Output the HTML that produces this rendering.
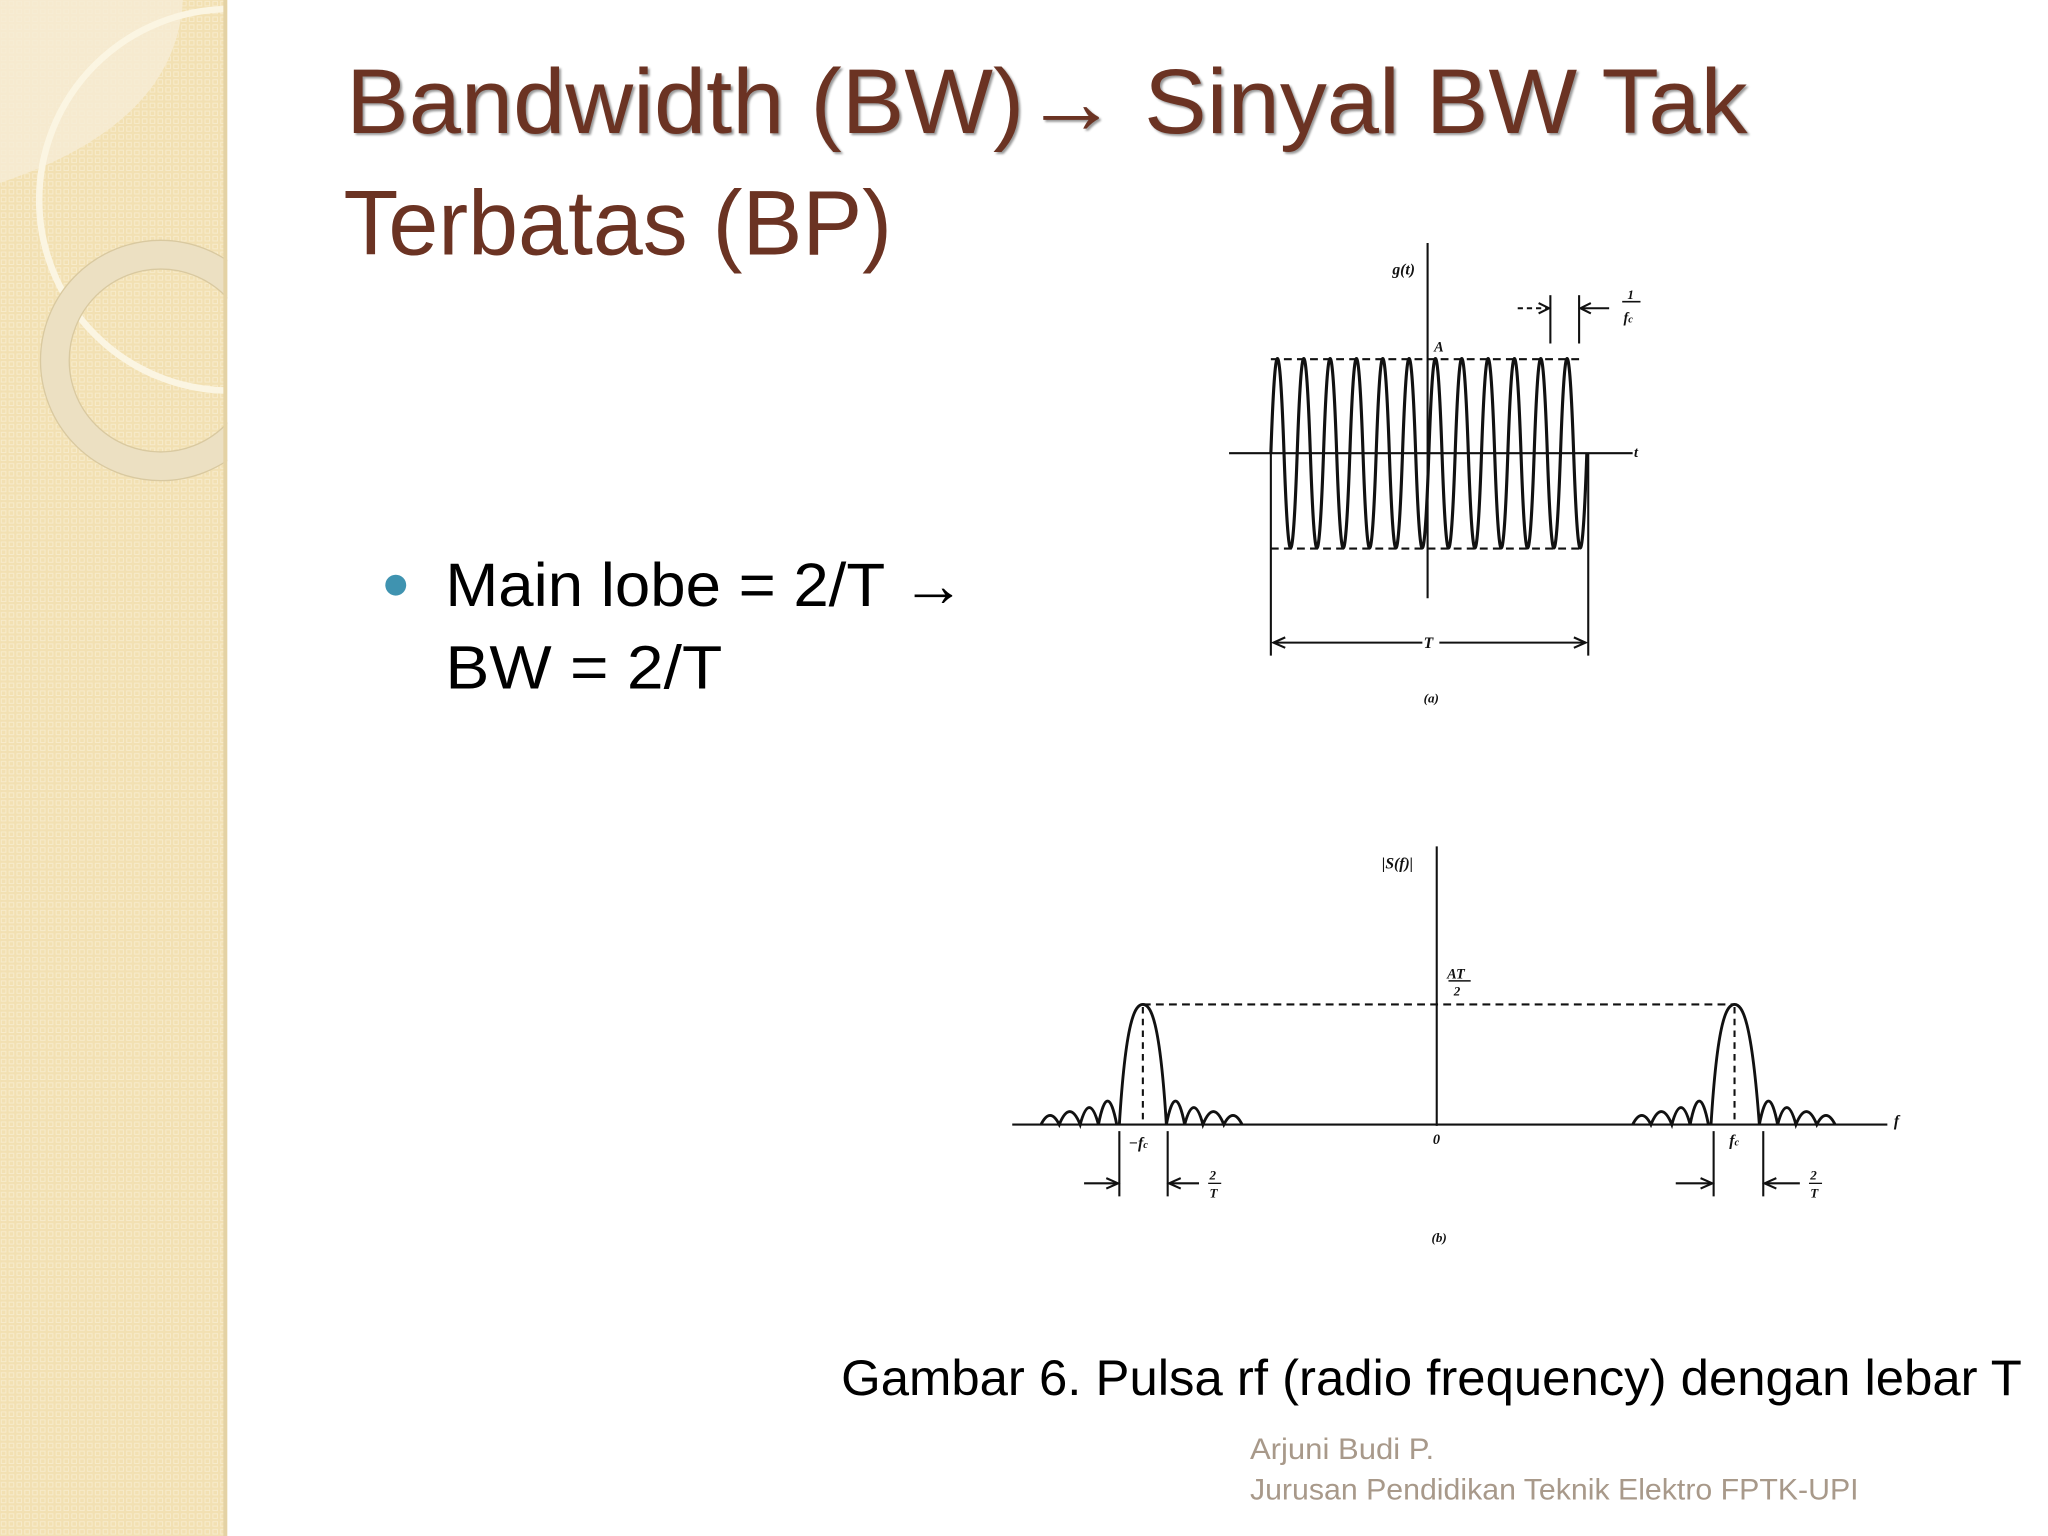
<!DOCTYPE html>
<html><head><meta charset="utf-8"><style>
html,body{margin:0;padding:0;background:#fff;}
svg{display:block;}
</style></head><body>
<svg width="2048" height="1536" viewBox="0 0 1568 1176" xmlns="http://www.w3.org/2000/svg">
<defs>
<pattern id="pt" width="6" height="6" patternUnits="userSpaceOnUse">
<rect width="6" height="6" fill="#f2e0b2"/>
<rect x="1" y="1" width="3.5" height="3.5" fill="none" stroke="#f7ebcb" stroke-width="0.8"/>
</pattern>
<clipPath id="sb"><rect x="0" y="0" width="174" height="1176"/></clipPath>
</defs>
<rect x="0" y="0" width="1568" height="1176" fill="#fff"/>
<g clip-path="url(#sb)">
<rect x="0" y="0" width="174" height="1176" fill="url(#pt)"/>
<path d="M0,0 H140 Q135,95 0,140 Z" fill="#f6ecd6" opacity="0.8"/>
<circle cx="176" cy="153" r="146" fill="none" stroke="#fbf5e2" stroke-width="5"/>
<circle cx="123" cy="276" r="81" fill="none" stroke="#ece0c2" stroke-width="22"/>
<circle cx="123" cy="276" r="92" fill="none" stroke="#d9c9a0" stroke-width="1"/>
<circle cx="123" cy="276" r="70" fill="none" stroke="#d9c9a0" stroke-width="1"/>
</g>
<rect x="171" y="0" width="3" height="1176" fill="#e4d2a4"/>

<g font-family="Liberation Sans, sans-serif">
<text x="265" y="102" font-size="70" fill="#6b3323" textLength="1073" lengthAdjust="spacingAndGlyphs" style="text-shadow:2px 2px 2px #999">Bandwidth (BW)→ Sinyal BW Tak</text>
<text x="263" y="195" font-size="70" fill="#6b3323" textLength="420" lengthAdjust="spacingAndGlyphs">Terbatas (BP)</text>
<circle cx="303" cy="448" r="8" fill="#3f93b0"/>
<text x="341" y="464" font-size="47" fill="#000" textLength="398" lengthAdjust="spacingAndGlyphs">Main lobe = 2/T →</text>
<text x="341" y="527" font-size="47" fill="#000" textLength="212" lengthAdjust="spacingAndGlyphs">BW = 2/T</text>
<text x="644" y="1068" font-size="38" fill="#000" textLength="904" lengthAdjust="spacingAndGlyphs">Gambar 6. Pulsa rf (radio frequency) dengan lebar T</text>
<text x="957" y="1117" font-size="23" fill="#a8998a" textLength="141" lengthAdjust="spacingAndGlyphs">Arjuni Budi P.</text>
<text x="957" y="1148" font-size="23" fill="#a8998a" textLength="466" lengthAdjust="spacingAndGlyphs">Jurusan Pendidikan Teknik Elektro FPTK-UPI</text>
</g>

<!-- figure (a) -->
<g stroke="#111" fill="none" stroke-width="1.6">
<line x1="1093" y1="186" x2="1093" y2="458"/>
<line x1="941" y1="347" x2="1250" y2="347"/>
<line x1="973" y1="275" x2="1213" y2="275" stroke-dasharray="6,4"/>
<line x1="973" y1="420" x2="1213" y2="420" stroke-dasharray="6,4"/>
<path stroke-width="2.4" d="M973,347 q5.04,-145 10.08,0 q5.04,145 10.08,0 q5.04,-145 10.08,0 q5.04,145 10.08,0 q5.04,-145 10.08,0 q5.04,145 10.08,0 q5.04,-145 10.08,0 q5.04,145 10.08,0 q5.04,-145 10.08,0 q5.04,145 10.08,0 q5.04,-145 10.08,0 q5.04,145 10.08,0 q5.04,-145 10.08,0 q5.04,145 10.08,0 q5.04,-145 10.08,0 q5.04,145 10.08,0 q5.04,-145 10.08,0 q5.04,145 10.08,0 q5.04,-145 10.08,0 q5.04,145 10.08,0 q5.04,-145 10.08,0 q5.04,145 10.08,0 q5.04,-145 10.08,0 q5.04,145 10.08,0"/>
<line x1="973" y1="347" x2="973" y2="502"/>
<line x1="1216" y1="347" x2="1216" y2="502"/>
<line x1="975" y1="492" x2="1089" y2="492"/>
<line x1="1102" y1="492" x2="1214" y2="492"/>
<path d="M984,488 L975,492 L984,496 M1205,488 L1214,492 L1205,496"/>
<line x1="1187" y1="226" x2="1187" y2="263"/>
<line x1="1209" y1="226" x2="1209" y2="263"/>
<line x1="1162" y1="236" x2="1185" y2="236" stroke-dasharray="4,3"/>
<path d="M1178,232 L1186,236 L1178,240 M1218,232 L1210,236 L1218,240"/>
<line x1="1211" y1="236" x2="1232" y2="236"/>
<line x1="1242" y1="231" x2="1256" y2="231" stroke-width="1.2"/>
</g>
<g font-family="Liberation Serif, serif" font-style="italic" font-weight="bold" fill="#111">
<text x="1066" y="210" font-size="12">g(t)</text>
<text x="1098" y="269" font-size="11">A</text>
<text x="1251" y="350" font-size="11">t</text>
<text x="1090" y="496" font-size="12">T</text>
<text x="1090" y="538" font-size="10">(a)</text>
<text x="1246" y="229" font-size="10">1</text>
<text x="1243" y="247" font-size="11">f<tspan font-size="8">c</tspan></text>
</g>

<!-- figure (b) -->
<g stroke="#111" fill="none" stroke-width="1.6">
<line x1="1100" y1="648" x2="1100" y2="862"/>
<line x1="775" y1="861" x2="1445" y2="861"/>
<line x1="875" y1="769" x2="1328" y2="769" stroke-dasharray="6,4"/>
<line x1="875" y1="771" x2="875" y2="861" stroke-dasharray="5,4"/>
<line x1="1328" y1="771" x2="1328" y2="861" stroke-dasharray="5,4"/>
<path stroke-width="2.2" d="M797,861 q7,-14 14,0 q8,-20 16,0 q7,-26 14,0 q7,-36 14,0 M857,861 C862,780 869,769 875,769 C881,769 888,780 893,861 M893,861 q7,-36 14,0 q7,-26 14,0 q8,-20 16,0 q7,-14 14,0"/>
<path stroke-width="2.2" d="M1250,861 q7,-14 14,0 q8,-20 16,0 q7,-26 14,0 q7,-36 14,0 M1310,861 C1315,780 1322,769 1328,769 C1334,769 1341,780 1347,861 M1347,861 q7,-36 14,0 q7,-26 14,0 q8,-20 16,0 q7,-14 14,0"/>
<line x1="857" y1="866" x2="857" y2="916"/>
<line x1="894" y1="866" x2="894" y2="916"/>
<line x1="830" y1="906" x2="855" y2="906"/>
<path d="M847,902 L856,906 L847,910 M904,902 L895,906 L904,910"/>
<line x1="896" y1="906" x2="918" y2="906"/>
<line x1="1312" y1="866" x2="1312" y2="916"/>
<line x1="1350" y1="866" x2="1350" y2="916"/>
<line x1="1283" y1="906" x2="1310" y2="906"/>
<path d="M1302,902 L1311,906 L1302,910 M1360,902 L1351,906 L1360,910"/>
<line x1="1352" y1="906" x2="1378" y2="906"/>
<line x1="1109" y1="751" x2="1126" y2="751" stroke-width="1.2"/>
<line x1="925" y1="906" x2="935" y2="906" stroke-width="1"/>
<line x1="1385" y1="906" x2="1395" y2="906" stroke-width="1"/>
</g>
<g font-family="Liberation Serif, serif" font-style="italic" font-weight="bold" fill="#111">
<text x="1058" y="665" font-size="12">|S(f)|</text>
<text x="1108" y="749" font-size="11">AT</text>
<text x="1113" y="762" font-size="10">2</text>
<text x="1097" y="876" font-size="11">0</text>
<text x="864" y="879" font-size="12">−f<tspan font-size="8">c</tspan></text>
<text x="1324" y="877" font-size="12">f<tspan font-size="8">c</tspan></text>
<text x="1450" y="862" font-size="12">f</text>
<text x="926" y="903" font-size="10">2</text>
<text x="926" y="917" font-size="10">T</text>
<text x="1386" y="903" font-size="10">2</text>
<text x="1386" y="917" font-size="10">T</text>
<text x="1096" y="951" font-size="10">(b)</text>
</g>
</svg>
</body></html>
